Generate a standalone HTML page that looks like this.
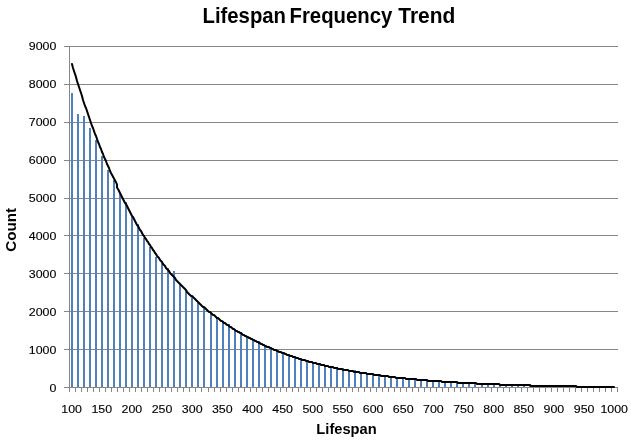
<!DOCTYPE html>
<html lang="en">
<head>
<meta charset="utf-8">
<title>Lifespan Frequency Trend</title>
<style>
html,body{margin:0;padding:0;background:#fff;}
body{width:631px;height:441px;overflow:hidden;}
svg{display:block;}
text{font-family:"Liberation Sans",sans-serif;fill:#000;}
.tick{font-size:11px;stroke:#000;stroke-width:0.12px;}
.ttl{font-size:22.5px;font-weight:bold;}
.ax{font-size:14.67px;font-weight:bold;}
.g{stroke:#868686;stroke-width:1;shape-rendering:crispEdges;fill:none;}
.b{fill:#4f81bd;shape-rendering:crispEdges;}
</style>
</head>
<body>
<svg width="631" height="441" viewBox="0 0 631 441">
<rect x="0" y="0" width="631" height="441" fill="#ffffff"/>
<text class="ttl" y="23"><tspan x="202.5" textLength="83.5" lengthAdjust="spacingAndGlyphs">Lifespan</tspan> <tspan x="289.5" textLength="102.8" lengthAdjust="spacingAndGlyphs">Frequency</tspan> <tspan x="398.3" textLength="57" lengthAdjust="spacingAndGlyphs">Trend</tspan></text>
<g class="g">
<line x1="64" y1="387.5" x2="618" y2="387.5"/>
<line x1="64" y1="349.5" x2="618" y2="349.5"/>
<line x1="64" y1="311.5" x2="618" y2="311.5"/>
<line x1="64" y1="273.5" x2="618" y2="273.5"/>
<line x1="64" y1="235.5" x2="618" y2="235.5"/>
<line x1="64" y1="198.5" x2="618" y2="198.5"/>
<line x1="64" y1="160.5" x2="618" y2="160.5"/>
<line x1="64" y1="122.5" x2="618" y2="122.5"/>
<line x1="64" y1="84.5" x2="618" y2="84.5"/>
<line x1="64" y1="46.5" x2="618" y2="46.5"/>
<line x1="69.5" y1="46" x2="69.5" y2="388"/>
<line x1="69.5" y1="388" x2="69.5" y2="392"/>
<line x1="75.5" y1="388" x2="75.5" y2="392"/>
<line x1="81.5" y1="388" x2="81.5" y2="392"/>
<line x1="87.5" y1="388" x2="87.5" y2="392"/>
<line x1="93.5" y1="388" x2="93.5" y2="392"/>
<line x1="99.5" y1="388" x2="99.5" y2="392"/>
<line x1="105.5" y1="388" x2="105.5" y2="392"/>
<line x1="111.5" y1="388" x2="111.5" y2="392"/>
<line x1="117.5" y1="388" x2="117.5" y2="392"/>
<line x1="123.5" y1="388" x2="123.5" y2="392"/>
<line x1="129.5" y1="388" x2="129.5" y2="392"/>
<line x1="135.5" y1="388" x2="135.5" y2="392"/>
<line x1="141.5" y1="388" x2="141.5" y2="392"/>
<line x1="147.5" y1="388" x2="147.5" y2="392"/>
<line x1="153.5" y1="388" x2="153.5" y2="392"/>
<line x1="159.5" y1="388" x2="159.5" y2="392"/>
<line x1="165.5" y1="388" x2="165.5" y2="392"/>
<line x1="171.5" y1="388" x2="171.5" y2="392"/>
<line x1="177.5" y1="388" x2="177.5" y2="392"/>
<line x1="183.5" y1="388" x2="183.5" y2="392"/>
<line x1="189.5" y1="388" x2="189.5" y2="392"/>
<line x1="195.5" y1="388" x2="195.5" y2="392"/>
<line x1="201.5" y1="388" x2="201.5" y2="392"/>
<line x1="208.5" y1="388" x2="208.5" y2="392"/>
<line x1="214.5" y1="388" x2="214.5" y2="392"/>
<line x1="220.5" y1="388" x2="220.5" y2="392"/>
<line x1="226.5" y1="388" x2="226.5" y2="392"/>
<line x1="232.5" y1="388" x2="232.5" y2="392"/>
<line x1="238.5" y1="388" x2="238.5" y2="392"/>
<line x1="244.5" y1="388" x2="244.5" y2="392"/>
<line x1="250.5" y1="388" x2="250.5" y2="392"/>
<line x1="256.5" y1="388" x2="256.5" y2="392"/>
<line x1="262.5" y1="388" x2="262.5" y2="392"/>
<line x1="268.5" y1="388" x2="268.5" y2="392"/>
<line x1="274.5" y1="388" x2="274.5" y2="392"/>
<line x1="280.5" y1="388" x2="280.5" y2="392"/>
<line x1="286.5" y1="388" x2="286.5" y2="392"/>
<line x1="292.5" y1="388" x2="292.5" y2="392"/>
<line x1="298.5" y1="388" x2="298.5" y2="392"/>
<line x1="304.5" y1="388" x2="304.5" y2="392"/>
<line x1="310.5" y1="388" x2="310.5" y2="392"/>
<line x1="316.5" y1="388" x2="316.5" y2="392"/>
<line x1="322.5" y1="388" x2="322.5" y2="392"/>
<line x1="328.5" y1="388" x2="328.5" y2="392"/>
<line x1="334.5" y1="388" x2="334.5" y2="392"/>
<line x1="340.5" y1="388" x2="340.5" y2="392"/>
<line x1="346.5" y1="388" x2="346.5" y2="392"/>
<line x1="352.5" y1="388" x2="352.5" y2="392"/>
<line x1="358.5" y1="388" x2="358.5" y2="392"/>
<line x1="364.5" y1="388" x2="364.5" y2="392"/>
<line x1="370.5" y1="388" x2="370.5" y2="392"/>
<line x1="376.5" y1="388" x2="376.5" y2="392"/>
<line x1="382.5" y1="388" x2="382.5" y2="392"/>
<line x1="388.5" y1="388" x2="388.5" y2="392"/>
<line x1="394.5" y1="388" x2="394.5" y2="392"/>
<line x1="400.5" y1="388" x2="400.5" y2="392"/>
<line x1="406.5" y1="388" x2="406.5" y2="392"/>
<line x1="412.5" y1="388" x2="412.5" y2="392"/>
<line x1="418.5" y1="388" x2="418.5" y2="392"/>
<line x1="424.5" y1="388" x2="424.5" y2="392"/>
<line x1="430.5" y1="388" x2="430.5" y2="392"/>
<line x1="436.5" y1="388" x2="436.5" y2="392"/>
<line x1="442.5" y1="388" x2="442.5" y2="392"/>
<line x1="448.5" y1="388" x2="448.5" y2="392"/>
<line x1="454.5" y1="388" x2="454.5" y2="392"/>
<line x1="460.5" y1="388" x2="460.5" y2="392"/>
<line x1="466.5" y1="388" x2="466.5" y2="392"/>
<line x1="472.5" y1="388" x2="472.5" y2="392"/>
<line x1="478.5" y1="388" x2="478.5" y2="392"/>
<line x1="485.5" y1="388" x2="485.5" y2="392"/>
<line x1="491.5" y1="388" x2="491.5" y2="392"/>
<line x1="497.5" y1="388" x2="497.5" y2="392"/>
<line x1="503.5" y1="388" x2="503.5" y2="392"/>
<line x1="509.5" y1="388" x2="509.5" y2="392"/>
<line x1="515.5" y1="388" x2="515.5" y2="392"/>
<line x1="521.5" y1="388" x2="521.5" y2="392"/>
<line x1="527.5" y1="388" x2="527.5" y2="392"/>
<line x1="533.5" y1="388" x2="533.5" y2="392"/>
<line x1="539.5" y1="388" x2="539.5" y2="392"/>
<line x1="545.5" y1="388" x2="545.5" y2="392"/>
<line x1="551.5" y1="388" x2="551.5" y2="392"/>
<line x1="557.5" y1="388" x2="557.5" y2="392"/>
<line x1="563.5" y1="388" x2="563.5" y2="392"/>
<line x1="569.5" y1="388" x2="569.5" y2="392"/>
<line x1="575.5" y1="388" x2="575.5" y2="392"/>
<line x1="581.5" y1="388" x2="581.5" y2="392"/>
<line x1="587.5" y1="388" x2="587.5" y2="392"/>
<line x1="593.5" y1="388" x2="593.5" y2="392"/>
<line x1="599.5" y1="388" x2="599.5" y2="392"/>
<line x1="605.5" y1="388" x2="605.5" y2="392"/>
<line x1="611.5" y1="388" x2="611.5" y2="392"/>
<line x1="617.5" y1="388" x2="617.5" y2="392"/>
</g>
<g class="tick" text-anchor="end">
<text x="56.4" y="391.9" textLength="6.90" lengthAdjust="spacingAndGlyphs">0</text>
<text x="56.4" y="354.0" textLength="27.60" lengthAdjust="spacingAndGlyphs">1000</text>
<text x="56.4" y="316.0" textLength="27.60" lengthAdjust="spacingAndGlyphs">2000</text>
<text x="56.4" y="278.1" textLength="27.60" lengthAdjust="spacingAndGlyphs">3000</text>
<text x="56.4" y="240.1" textLength="27.60" lengthAdjust="spacingAndGlyphs">4000</text>
<text x="56.4" y="202.1" textLength="27.60" lengthAdjust="spacingAndGlyphs">5000</text>
<text x="56.4" y="164.2" textLength="27.60" lengthAdjust="spacingAndGlyphs">6000</text>
<text x="56.4" y="126.2" textLength="27.60" lengthAdjust="spacingAndGlyphs">7000</text>
<text x="56.4" y="88.3" textLength="27.60" lengthAdjust="spacingAndGlyphs">8000</text>
<text x="56.4" y="50.3" textLength="27.60" lengthAdjust="spacingAndGlyphs">9000</text>
</g>
<g class="b">
<rect x="71" y="93" width="2" height="294"/>
<rect x="77" y="114" width="2" height="273"/>
<rect x="83" y="116" width="2" height="271"/>
<rect x="89" y="128" width="2" height="259"/>
<rect x="95" y="140" width="2" height="247"/>
<rect x="101" y="156" width="2" height="231"/>
<rect x="107" y="170" width="2" height="217"/>
<rect x="113" y="180" width="2" height="207"/>
<rect x="119" y="194" width="2" height="193"/>
<rect x="125" y="202" width="2" height="185"/>
<rect x="131" y="217" width="2" height="170"/>
<rect x="137" y="224" width="2" height="163"/>
<rect x="143" y="238" width="2" height="149"/>
<rect x="149" y="247" width="2" height="140"/>
<rect x="155" y="257" width="2" height="130"/>
<rect x="161" y="263" width="2" height="124"/>
<rect x="167" y="268" width="2" height="119"/>
<rect x="173" y="271" width="2" height="116"/>
<rect x="179" y="285" width="2" height="102"/>
<rect x="185" y="291" width="2" height="96"/>
<rect x="191" y="297" width="2" height="90"/>
<rect x="197" y="303" width="2" height="84"/>
<rect x="203" y="308" width="2" height="79"/>
<rect x="210" y="313" width="2" height="74"/>
<rect x="216" y="317" width="2" height="70"/>
<rect x="222" y="321" width="2" height="66"/>
<rect x="228" y="324" width="2" height="63"/>
<rect x="234" y="330" width="2" height="57"/>
<rect x="240" y="332" width="2" height="55"/>
<rect x="246" y="337" width="2" height="50"/>
<rect x="252" y="340" width="2" height="47"/>
<rect x="258" y="341" width="2" height="46"/>
<rect x="264" y="346" width="2" height="41"/>
<rect x="270" y="348" width="2" height="39"/>
<rect x="276" y="351" width="2" height="36"/>
<rect x="282" y="353" width="2" height="34"/>
<rect x="288" y="355" width="2" height="32"/>
<rect x="294" y="357" width="2" height="30"/>
<rect x="300" y="359" width="2" height="28"/>
<rect x="306" y="361" width="2" height="26"/>
<rect x="312" y="363" width="2" height="24"/>
<rect x="318" y="364" width="2" height="23"/>
<rect x="324" y="366" width="2" height="21"/>
<rect x="330" y="367" width="2" height="20"/>
<rect x="336" y="367" width="2" height="20"/>
<rect x="342" y="368" width="2" height="19"/>
<rect x="348" y="371" width="2" height="16"/>
<rect x="354" y="370" width="2" height="17"/>
<rect x="360" y="373" width="2" height="14"/>
<rect x="366" y="374" width="2" height="13"/>
<rect x="372" y="375" width="2" height="12"/>
<rect x="378" y="375" width="2" height="12"/>
<rect x="384" y="376" width="2" height="11"/>
<rect x="390" y="377" width="2" height="10"/>
<rect x="396" y="378" width="2" height="9"/>
<rect x="402" y="378" width="2" height="9"/>
<rect x="408" y="379" width="2" height="8"/>
<rect x="414" y="379" width="2" height="8"/>
<rect x="420" y="380" width="2" height="7"/>
<rect x="426" y="380" width="2" height="7"/>
<rect x="432" y="381" width="2" height="6"/>
<rect x="438" y="381" width="2" height="6"/>
<rect x="444" y="382" width="2" height="5"/>
<rect x="450" y="382" width="2" height="5"/>
<rect x="456" y="383" width="2" height="4"/>
<rect x="462" y="383" width="2" height="4"/>
<rect x="468" y="383" width="2" height="4"/>
<rect x="474" y="384" width="2" height="3"/>
<rect x="481" y="384" width="2" height="3"/>
<rect x="487" y="384" width="2" height="3"/>
<rect x="493" y="384" width="2" height="3"/>
<rect x="499" y="385" width="2" height="2"/>
<rect x="505" y="385" width="2" height="2"/>
<rect x="511" y="385" width="2" height="2"/>
<rect x="517" y="385" width="2" height="2"/>
<rect x="523" y="385" width="2" height="2"/>
<rect x="529" y="385" width="2" height="2"/>
<rect x="535" y="386" width="2" height="1"/>
<rect x="541" y="386" width="2" height="1"/>
<rect x="547" y="386" width="2" height="1"/>
<rect x="553" y="386" width="2" height="1"/>
<rect x="559" y="386" width="2" height="1"/>
<rect x="565" y="386" width="2" height="1"/>
<rect x="571" y="386" width="2" height="1"/>
</g>
<g class="tick" text-anchor="middle">
<text x="71.6" y="413" textLength="20.70" lengthAdjust="spacingAndGlyphs">100</text>
<text x="101.8" y="413" textLength="20.70" lengthAdjust="spacingAndGlyphs">150</text>
<text x="131.9" y="413" textLength="20.70" lengthAdjust="spacingAndGlyphs">200</text>
<text x="162.0" y="413" textLength="20.70" lengthAdjust="spacingAndGlyphs">250</text>
<text x="192.2" y="413" textLength="20.70" lengthAdjust="spacingAndGlyphs">300</text>
<text x="222.3" y="413" textLength="20.70" lengthAdjust="spacingAndGlyphs">350</text>
<text x="252.5" y="413" textLength="20.70" lengthAdjust="spacingAndGlyphs">400</text>
<text x="282.6" y="413" textLength="20.70" lengthAdjust="spacingAndGlyphs">450</text>
<text x="312.8" y="413" textLength="20.70" lengthAdjust="spacingAndGlyphs">500</text>
<text x="342.9" y="413" textLength="20.70" lengthAdjust="spacingAndGlyphs">550</text>
<text x="373.1" y="413" textLength="20.70" lengthAdjust="spacingAndGlyphs">600</text>
<text x="403.2" y="413" textLength="20.70" lengthAdjust="spacingAndGlyphs">650</text>
<text x="433.4" y="413" textLength="20.70" lengthAdjust="spacingAndGlyphs">700</text>
<text x="463.5" y="413" textLength="20.70" lengthAdjust="spacingAndGlyphs">750</text>
<text x="493.7" y="413" textLength="20.70" lengthAdjust="spacingAndGlyphs">800</text>
<text x="523.8" y="413" textLength="20.70" lengthAdjust="spacingAndGlyphs">850</text>
<text x="553.9" y="413" textLength="20.70" lengthAdjust="spacingAndGlyphs">900</text>
<text x="584.1" y="413" textLength="20.70" lengthAdjust="spacingAndGlyphs">950</text>
<text x="614.2" y="413" textLength="27.60" lengthAdjust="spacingAndGlyphs">1000</text>
</g>
<path d="M72,64L73,68L76,77L77,81L82,96L83,100L85,106L86,108L92,126L93,128L95,134L96,136L98,142L99,144L100,147L101,149L102,152L103,154L104,157L106,161L107,164L109,168L110,171L111,173L116.4,183L117,184.6L117,187.6L118,189L125,203L126,204L132,216L133,217L137,225L138,226L140,230L141,231L143,235L144,236L145,238L146,239L147,241L148,242L149,244L150,245L151,247L152,248L153,250L154,251L155,253L156,254L157,256L159,258L160,260L162,262L163,264L165,266L166,268L169,271L170,273L175,278L176,280L186,290L187,292L191,296L192,296L203,307L204,307L209,312L210,312L213,315L214,315L217,318L218,318L221,321L222,321L224,323L225,323L227,325L228,325L230,327L231,327L233,329L234,329L236,331L237,331L238,332L239,332L240,333L241,333L243,335L244,335L245,336L246,336L247,337L248,337L249,338L250,338L251,339L252,339L253,340L254,340L255,341L256,341L257,342L258,342L259,343L260,343L261,344L262,344L263,345L264,345L265,346L266,346L267,347L269,347L270,348L271,348L272,349L273,349L274,350L276,350L277,351L278,351L279,352L281,352L282,353L284,353L285,354L286,354L287,355L289,355L290,356L292,356L293,357L295,357L296,358L298,358L299,359L301,359L302,360L305,360L306,361L308,361L309,362L312,362L313,363L316,363L317,364L320,364L321,365L324,365L325,366L328,366L329,367L333,367L334,368L337,368L338,369L342,369L343,370L348,370L349,371L353,371L354,372L359,372L360,373L366,373L367,374L373,374L374,375L380,375L381,376L388,376L389,377L395,377L396,378L405,378L406,379L416,379L417,380L427,380L428,381L441,381L442,382L457,382L458,383L476,383L477,384L499,384L500,385L530,385L531,386L576,386L577,387L614,387" fill="none" stroke="#000" stroke-width="2" stroke-linejoin="bevel" stroke-linecap="round"/>
<text class="ax" x="346.5" y="434.2" text-anchor="middle">Lifespan</text>
<text class="ax" style="font-size:15px" transform="translate(16,229.9) rotate(-90)" text-anchor="middle" textLength="43.8" lengthAdjust="spacingAndGlyphs">Count</text>
</svg>
</body>
</html>
